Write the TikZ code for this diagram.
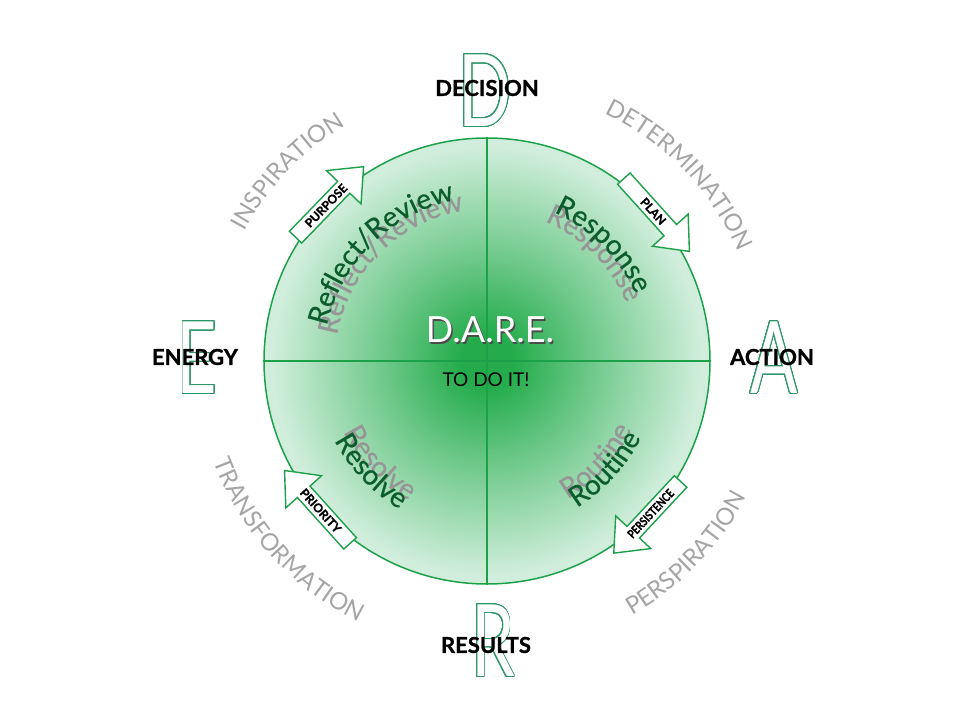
\documentclass[tikz,border=0pt]{standalone}
\usepackage{fontspec}
\setmainfont{Lato}
\usepackage[copies]{contour}
\contourlength{1.1pt}
\contournumber{32}
\usetikzlibrary{shapes.arrows,decorations.text}

\definecolor{dcore}{RGB}{36,172,76}
\definecolor{dedge}{RGB}{208,238,219}
\definecolor{dline}{RGB}{28,160,74}
\definecolor{dletter}{RGB}{46,150,104}
\definecolor{dtext}{RGB}{12,92,46}
\definecolor{dshadow}{RGB}{150,150,150}
\definecolor{dgray}{RGB}{165,165,165}

\pgfdeclareradialshading{dare_shade}{\pgfpoint{0bp}{0bp}}{color(0bp)=(dcore);
  color(3bp)=(dcore); color(12bp)=(dcore!55!dedge); color(24bp)=(dedge);
  color(50bp)=(dedge)}

\newcommand{\grayfont}{\fontsize{24}{28}\selectfont}
\newcommand{\quadfont}{\fontsize{28}{34}\selectfont\addfontfeature{FakeBold=0.6}}
\newcommand{\heavy}{\bfseries\addfontfeature{FakeBold=1}}
\newcommand{\olet}[1]{\scalebox{0.7}[1]{\fontsize{100}{100}\selectfont
  \contour{dletter}{\textcolor{white}{#1}}}}

\tikzset{
  lbl_b/.style = {inner sep=0pt, font=\heavy\fontsize{22}{22}\selectfont},
  lbl_o/.style = {inner sep=0pt},% outline letter
  wheel/.style = {circle, draw=dline, line width=1.5pt, shading=dare_shade,
    minimum size=446pt},
  arr_w/.style = {single arrow, draw=dline, fill=white, line width=1.4pt,
    minimum height=98pt, minimum width=48pt, single arrow head extend=13pt,
    single arrow tip angle=80, inner sep=2pt,
    font=\heavy\fontsize{12}{12}\selectfont}% arrow on the wheel
}

\begin{document}
\begin{tikzpicture}[x=1pt, y=1pt]
\useasboundingbox (-487,-359) rectangle (473,361);

% big outline letters
\node [lbl_o] (big_d) at (-2,270) {\olet{D}};
\node [lbl_o] (big_a) at (287,3) {\olet{A}};
\node [lbl_o] (big_r) at (6,-280) {\olet{R}};
\node [lbl_o] (big_e) at (-290,3) {\olet{E}};

\node [lbl_b] (decision) at (0,273) {DECISION};
\node [lbl_b] (action) at (285,4) {ACTION};
\node [lbl_b] (results) at (-1,-284) {RESULTS};
\node [lbl_b] (energy) at (-292,4) {ENERGY};

% grey words round the wheel
\path [decorate, decoration={text along path, text align=center,
  text color=dgray, text={|\grayfont|INSPIRATION}}]
  (181.5:275) arc [start angle=181.5, end angle=91.5, radius=275];
\path [decorate, decoration={text along path, text align=center,
  text color=dgray, text={|\grayfont|DETERMINATION}}]
  (89:274) arc [start angle=89, end angle=-1, radius=274];
\path [decorate, decoration={text along path, text align=center,
  text color=dgray, text={|\grayfont|PERSPIRATION}}]
  (-89:293) arc [start angle=-89, end angle=1, radius=293];
\path [decorate, decoration={text along path, text align=center,
  text color=dgray, text={|\grayfont|TRANSFORMATION}}]
  (177:291) arc [start angle=177, end angle=267, radius=291];

% the wheel
\node [wheel] (wheel) at (0,0) {};
\draw [dline, line width=1.2pt] (wheel.north) -- (wheel.south);
\draw [dline, line width=1.2pt] (wheel.west) -- (wheel.east);

\node [text=black!70, font=\fontsize{36}{36}\selectfont] (dare_sh) at (4.5,29.5) {D.A.R.E.};
\node [text=white, font=\fontsize{36}{36}\selectfont] (dare) at (3,31) {D.A.R.E.};
\node [font=\fontsize{19}{19}\selectfont] (todo) at (-1,-19) {TO DO IT!};

% quadrant words, shadow first
\path [decorate, decoration={text along path, text align=center,
  text color=dshadow, text={|\quadfont|Reflect/Review}}]
  (179.5:152) arc [start angle=179.5, end angle=89.5, radius=152];
\path [decorate, decoration={text along path, text align=center,
  text color=dtext, text={|\quadfont|Reflect/Review}}]
  (179.5:164) arc [start angle=179.5, end angle=89.5, radius=164];
\path [decorate, decoration={text along path, text align=center,
  text color=dshadow, text={|\quadfont|Response}}]
  (90:151) arc [start angle=90, end angle=0, radius=151];
\path [decorate, decoration={text along path, text align=center,
  text color=dtext, text={|\quadfont|Response}}]
  (90:163) arc [start angle=90, end angle=0, radius=163];
\path [decorate, decoration={text along path, text align=center,
  text color=dshadow, text={|\quadfont|Routine}}]
  (-87.5:160) arc [start angle=-87.5, end angle=2.5, radius=160];
\path [decorate, decoration={text along path, text align=center,
  text color=dtext, text={|\quadfont|Routine}}]
  (-87.5:172) arc [start angle=-87.5, end angle=2.5, radius=172];
\path [decorate, decoration={text along path, text align=center,
  text color=dshadow, text={|\quadfont|Resolve}}]
  (178.5:160) arc [start angle=178.5, end angle=268.5, radius=160];
\path [decorate, decoration={text along path, text align=center,
  text color=dtext, text={|\quadfont|Resolve}}]
  (178.5:172) arc [start angle=178.5, end angle=268.5, radius=172];

% arrows on the rim
\node [arr_w, rotate=46] (purpose) at (wheel.136) {PURPOSE};
\node [arr_w, rotate=-48] (plan) at (wheel.42) {PLAN};
\node [arr_w, rotate=47, shape border rotate=180] (persist) at (wheel.-43) {\scalebox{0.8}[1]{PERSISTENCE}};
\node [arr_w, rotate=-48, shape border rotate=180] (priority) at (wheel.222) {PRIORITY};
\end{tikzpicture}
\end{document}
